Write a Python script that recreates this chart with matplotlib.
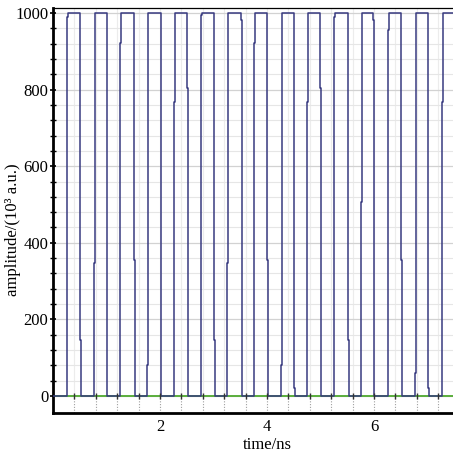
import numpy as np
import matplotlib
matplotlib.use("Agg")
import matplotlib.pyplot as plt

# ---- data ----
rise_t = [0.26, 0.77, 1.26, 1.76, 2.26, 2.76, 3.25, 3.76, 4.26, 4.75, 5.26, 5.75, 6.26, 6.76, 7.27]
rise_mid = [990, 348, 921, 81, 768, 995, 348, 921, 81, 768, 990, 507, 956, 60, 768]
fall_t = [0.51, 1.00, 1.51, 2.01, 2.50, 3.01, 3.51, 4.00, 4.51, 4.99, 5.51, 5.98, 6.50, 7.01, 7.51]
fall_mid = [146, 982, 355, 20, 804, 146, 982, 355, 20, 804, 146, 982, 355, 20, 146]
low_level = 0
high_level = 1000
t_start, t_end = 0.0, 8.0
x_tick_vals = [2, 4, 6]
y_tick_vals = [0, 200, 400, 600, 800, 1000]

plt.rcParams['font.family'] = ['Liberation Serif', 'DejaVu Serif']

# build the waveform polyline from the edge lists
jog = 0.018
xs = [t_start]
ys = [low_level]
for tr, mr, tf, mf in zip(rise_t, rise_mid, fall_t, fall_mid):
    xs += [tr, tr, tr + jog, tr + jog, tf, tf, tf + jog, tf + jog]
    ys += [low_level, mr, mr, high_level, high_level, mf, mf, low_level]
xs.append(t_end)
ys.append(low_level)

fig = plt.figure(figsize=(4.53, 4.53), dpi=100)
W = H = 453.0
left_px, right_px, top_px, bot_px = 53, 481, 7.5, 413
ax = fig.add_axes([left_px / W, 1 - bot_px / H, (right_px - left_px) / W, (bot_px - top_px) / H])

ax.set_xlim(t_start, t_end)
ax.set_ylim(-44, 1014)

# grid
gx = np.arange(0.4, 8.0, 0.4)
ax.vlines(gx, 0, 1014, colors='#ececec', linewidth=0.8, zorder=0)
ax.vlines(gx, -44, 0, colors='#a0a0a0', linewidth=0.8, linestyles=(0, (1, 1.5)), zorder=0)
ax.set_yticks(y_tick_vals)
ax.set_yticks(np.arange(0, 1001, 40), minor=True)
ax.grid(which='minor', axis='y', color='#e6e6e6', linewidth=0.8, zorder=0)
ax.grid(which='major', axis='y', color='#d2d2d2', linewidth=0.9, zorder=0)
ax.grid(which='major', axis='x', visible=False)

# series
ax.plot([t_start, t_end], [low_level, low_level], color='#5aae3c', linewidth=1.4, zorder=2)
ax.plot(xs, ys, color='#383a80', linewidth=1.1, zorder=3)
ax.plot(gx, np.zeros_like(gx), linestyle='none', marker='|', markersize=4,
        markeredgewidth=1.0, color='#333333', zorder=4)

# spines
ax.spines['left'].set_linewidth(2.0)
ax.spines['bottom'].set_linewidth(2.0)
ax.spines['right'].set_visible(False)
ax.spines['top'].set_linestyle((0, (1, 1)))
ax.spines['top'].set_linewidth(0.9)

# ticks
ax.set_xticks(x_tick_vals)
ax.tick_params(axis='x', which='both', length=0, pad=4, labelsize=12)
ax.tick_params(axis='y', which='major', direction='inout', length=4, width=1.2, pad=1.5, labelsize=12)
ax.tick_params(axis='y', which='minor', direction='inout', length=4, width=1.0)

ax.set_xlabel('time/ns', fontsize=12, labelpad=2)
ax.set_ylabel('amplitude/(10\u00b3 a.u.)', fontsize=12)
ax.yaxis.set_label_coords(21 / W, 1 - 230 / H, transform=fig.transFigure)

fig.savefig('out.png', dpi=100)
